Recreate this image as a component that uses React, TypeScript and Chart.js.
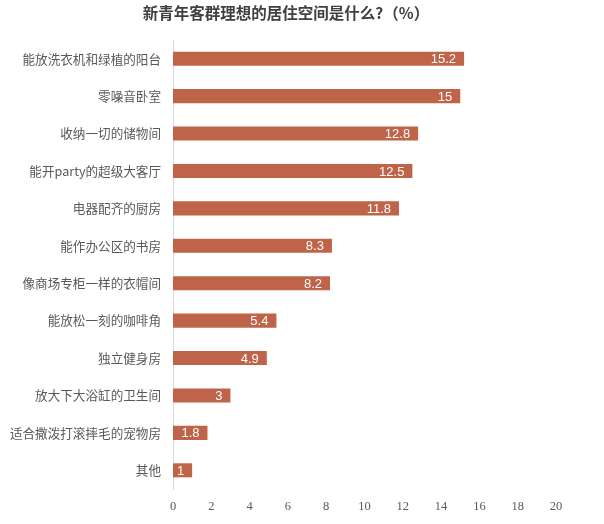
import React, { useEffect, useRef } from "react";
import { Chart, registerables } from "chart.js";

Chart.register(...registerables);

const title = "新青年客群理想的居住空间是什么?（%）";
const categories = [
  "能放洗衣机和绿植的阳台",
  "零噪音卧室",
  "收纳一切的储物间",
  "能开party的超级大客厅",
  "电器配齐的厨房",
  "能作办公区的书房",
  "像商场专柜一样的衣帽间",
  "能放松一刻的咖啡角",
  "独立健身房",
  "放大下大浴缸的卫生间",
  "适合撒泼打滚摔毛的宠物房",
  "其他",
];
const values = [15.2, 15, 12.8, 12.5, 11.8, 8.3, 8.2, 5.4, 4.9, 3, 1.8, 1];
const xTicks = [0, 2, 4, 6, 8, 10, 12, 14, 16, 18, 20];

const barColor = "#BF6449";

const titlePlugin = {
  id: "customTitle",
  afterDraw(chart: any) {
    const ctx = chart.ctx;
    ctx.save();
    ctx.font = "bold 15.5px 'Noto Sans CJK SC', sans-serif";
    ctx.fillStyle = "#404040";
    ctx.textAlign = "center";
    ctx.textBaseline = "middle";
    ctx.fillText(title, 286, 13);
    ctx.restore();
  },
};

const labelPlugin = {
  id: "barLabels",
  afterDatasetsDraw(chart: any) {
    const ctx = chart.ctx;
    const meta = chart.getDatasetMeta(0);
    ctx.save();
    ctx.font = "13px 'Liberation Sans', Arial, sans-serif";
    ctx.fillStyle = "#ffffff";
    ctx.textAlign = "right";
    ctx.textBaseline = "middle";
    meta.data.forEach((bar: any, i: number) => {
      ctx.fillText(String(values[i]), bar.x - 8, bar.y + 1);
    });
    ctx.restore();
  },
};

export default function App() {
  const ref = useRef<HTMLCanvasElement | null>(null);
  useEffect(() => {
    if (!ref.current) return;
    const chart = new Chart(ref.current, {
      type: "bar",
      data: {
        labels: categories,
        datasets: [
          {
            data: values,
            backgroundColor: barColor,
            borderWidth: 0,
            barPercentage: 0.75,
            categoryPercentage: 0.5,
          },
        ],
      },
      options: {
        indexAxis: "y",
        animation: false,
        responsive: true,
        maintainAspectRatio: false,
        layout: { padding: { top: 40, right: 48, bottom: 0, left: 0 } },
        plugins: {
          legend: { display: false },
          title: { display: false },
          tooltip: { enabled: false },
        },
        scales: {
          x: {
            min: 0,
            max: 20,
            grid: { display: false, drawTicks: false },
            border: { display: false },
            afterBuildTicks(scale: any) {
              scale.ticks = xTicks.map((v) => ({ value: v }));
            },
            afterFit(scale: any) {
              scale.height = 35;
            },
            ticks: {
              padding: 10,
              color: "#595959",
              font: { family: "'Liberation Serif', 'DejaVu Serif', serif", size: 12.5 },
            },
          },
          y: {
            grid: { display: false, drawTicks: false },
            border: { display: true, color: "#d9d9d9", width: 1 },
            afterFit(scale: any) {
              scale.width = 173;
            },
            ticks: {
              padding: 12,
              color: "#595959",
              font: { family: "'Noto Sans CJK SC', sans-serif", size: 12.6 },
            },
          },
        },
      },
      plugins: [titlePlugin, labelPlugin],
    });
    return () => chart.destroy();
  }, []);
  return (
    <div style={{ position: "fixed", left: 0, top: 0, width: 604, height: 524, background: "#fff" }}>
      <canvas ref={ref} />
    </div>
  );
}
